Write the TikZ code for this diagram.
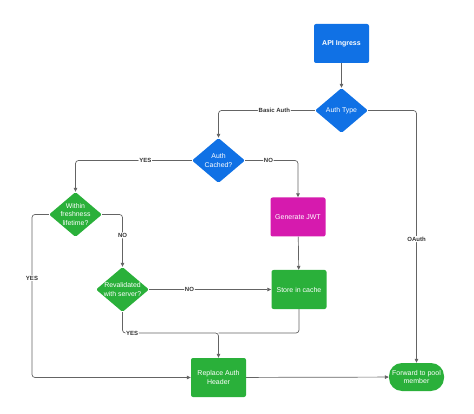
\documentclass[tikz,border=0pt]{standalone}
\usepackage{fontspec}
\setmainfont{Liberation Sans}
\usetikzlibrary{shapes.geometric,arrows.meta}
\definecolor{lblue}{RGB}{16,113,229}
\definecolor{lgreen}{RGB}{42,176,58}
\definecolor{lmag}{RGB}{214,26,174}
\definecolor{lline}{RGB}{100,100,100}
\begin{document}
\begin{tikzpicture}[x=1pt,y=-1pt,
  box/.style={rectangle, rounded corners=2pt, minimum width=55pt, minimum height=39pt, text=white,
    font=\fontsize{7}{8.4}\selectfont, align=center, inner sep=1pt},
  dia/.style={diamond, rounded corners=1.5pt, minimum width=53pt, minimum height=45pt, inner sep=0pt},
  dtxt/.style={text=white, font=\fontsize{6.9}{8.8}\selectfont, align=center, inner sep=0pt},
  conn/.style={draw=lline, line width=0.7pt, rounded corners=3pt, -{Triangle[length=4pt,width=3.6pt]}},
  plain/.style={draw=lline, line width=0.7pt, rounded corners=3pt},
  lbl/.style={fill=white, font=\fontsize{6}{7}\selectfont\bfseries, text=black!80, inner sep=0.8pt}
]
\useasboundingbox (0,0) rectangle (474,414);

\node[box, fill=lblue, font=\fontsize{7}{8.4}\selectfont\bfseries] (api) at (341.5,43.5) {API Ingress};
\node[dia, fill=lblue, label={[dtxt]center:Auth Type}] (type) at (341.5,110.5) {};
\node[dia, fill=lblue, label={[dtxt]center:Auth\\Cached?}] (cached) at (218.5,160.5) {};
\node[dia, fill=lgreen, label={[dtxt]center:Within\\freshness\\lifetime?}] (within) at (75.5,214.5) {};
\node[box, fill=lmag] (jwt) at (298,217) {Generate JWT};
\node[dia, fill=lgreen, label={[dtxt]center:Revalidated\\with server?}] (reval) at (122.5,289.5) {};
\node[box, fill=lgreen] (store) at (299,289.5) {Store in cache};
\node[box, fill=lgreen] (replace) at (218.5,377.5) {Replace Auth\\Header};
\node[box, fill=lgreen, rounded corners=13pt, minimum height=28pt] (fwd) at (416.5,377) {Forward to pool\\member};

\coordinate (wl) at (32,214.5);
\coordinate (merge) at (218.5,333);

\draw[conn] (api) -- (type);
\draw[conn] (type.west) -| node[lbl, pos=0.21]{Basic Auth} (cached.north);
\draw[conn] (type.east) -| node[lbl, pos=0.755]{OAuth} (fwd.north);
\draw[conn] (cached.west) -| node[lbl, pos=0.2]{YES} (within.north);
\draw[conn] (cached.east) -| node[lbl, pos=0.22]{NO} (jwt.north);
\draw[conn] (within.east) -| node[lbl, pos=0.7]{NO} (reval.north);
\draw[conn] (within.west) -- (wl) |- node[lbl, pos=0.195]{YES} (replace.west);
\draw[conn] (reval.east) -- node[lbl, pos=0.33]{NO} (store.west);
\draw[conn] (reval.south) |- node[lbl, pos=0.55]{YES} (merge) -- (replace.north);
\draw[plain] (store.south) |- (merge);
\draw[conn] (jwt) -- (store);
\draw[conn] (replace) -- (fwd);
\end{tikzpicture}
\end{document}
